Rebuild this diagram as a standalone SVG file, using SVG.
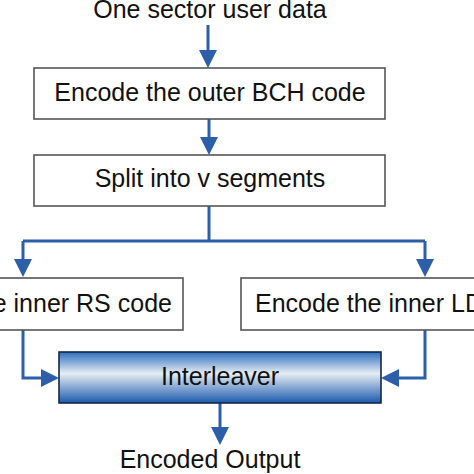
<svg xmlns="http://www.w3.org/2000/svg" width="474" height="474" viewBox="0 0 474 474">
<style>
  text { font-family: "Liberation Sans", Arial, sans-serif; font-size: 25px; fill: #111; text-anchor: middle; }
  .box { fill: #fff; stroke: #555; stroke-width: 1.6; }
  .conn { fill: none; stroke: #2c5fa8; stroke-width: 3; marker-end: url(#ah); }
  .plain { fill: none; stroke: #2c5fa8; stroke-width: 3; }
</style>
<defs>
  <marker id="ah" markerUnits="userSpaceOnUse" markerWidth="18" markerHeight="18" viewBox="0 0 18 18" refX="2" refY="9" orient="auto">
    <path d="M0,0 L18,9 L0,18 Z" fill="#2c5fa8"/>
  </marker>
  <linearGradient id="ilg" x1="0" y1="0" x2="0" y2="1">
    <stop offset="0" stop-color="#2d6fbe"/>
    <stop offset="0.42" stop-color="#e6edf3"/>
    <stop offset="1" stop-color="#1b5aae"/>
  </linearGradient>
</defs>
<g id="connectors">
  <path class="conn" d="M208,25 V52"/>
  <path class="conn" d="M209,119 V139"/>
  <path class="plain" d="M209,206 V241"/>
  <path class="plain" d="M23,241 H425"/>
  <path class="conn" d="M23,241 V261"/>
  <path class="conn" d="M425,241 V261"/>
  <path class="conn" d="M23,330 V378 H43"/>
  <path class="conn" d="M425,330 V378 H397"/>
  <path class="conn" d="M220,403 V429"/>
</g>
<g id="input"><text x="210" y="18">One sector user data</text></g>
<g id="bch"><rect class="box" x="34" y="68" width="351" height="51"/><text x="210" y="101">Encode the outer BCH code</text></g>
<g id="split"><rect class="box" x="34" y="155" width="351" height="51"/><text x="210" y="187">Split into v segments</text></g>
<g id="rs"><rect class="box" x="-140" y="278" width="323" height="52"/><text x="26" y="312">Encode the inner RS code</text></g>
<g id="ldpc"><rect class="box" x="241" y="278" width="360" height="52"/><text x="255" y="312" style="text-anchor:start">Encode the inner LDPC code</text></g>
<g id="interleaver"><rect x="59" y="352" width="322" height="51" fill="url(#ilg)" stroke="#15294a" stroke-width="1.6"/><text x="220" y="385">Interleaver</text></g>
<g id="output"><text x="210" y="468">Encoded Output</text></g>
</svg>
